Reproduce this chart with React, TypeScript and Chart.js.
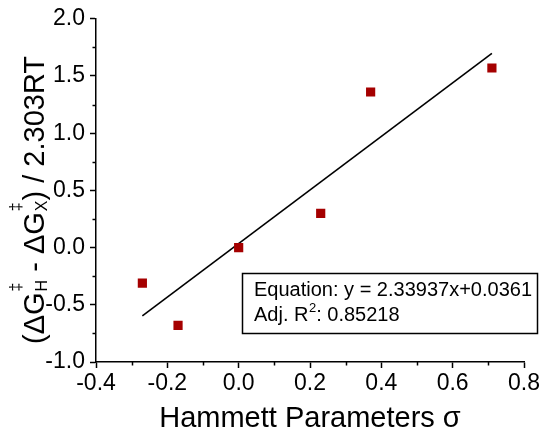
import React, { useEffect, useRef } from "react";
import { Chart, registerables } from "chart.js";

Chart.register(...registerables);

// ---- data ----
const sigma = [-0.27, -0.17, 0.0, 0.23, 0.37, 0.71];
const energy = [-0.31, -0.68, 0.0, 0.3, 1.36, 1.57];
const fitX = [-0.27, 0.71];
const fitY = [-0.596, 1.697];
const xTicks = [-0.4, -0.2, 0.0, 0.2, 0.4, 0.6, 0.8];
const yTicks = [-1.0, -0.5, 0.0, 0.5, 1.0, 1.5, 2.0];
const xTitle = "Hammett Parameters σ";
const yTitleParts = [
  { text: "(ΔG" },
  { sup: "‡", sub: "H" },
  { text: " - ΔG" },
  { sup: "‡", sub: "X" },
  { text: ") / 2.303RT" },
];
const equationText = "Equation: y = 2.33937x+0.0361";
const adjLabel = "Adj. R";
const adjSup = "2";
const adjValue = ": 0.85218";

const FONT = "'Liberation Sans', Arial, Helvetica, sans-serif";
const MARKER = "#a50000";

const decorPlugin = {
  id: "decor",
  afterDraw(chart: any) {
    const { ctx, chartArea } = chart;
    const xs = chart.scales.x;
    const ys = chart.scales.y;
    ctx.save();
    // minor ticks
    ctx.strokeStyle = "#000";
    ctx.lineWidth = 1.5;
    for (let i = 0; i < xTicks.length - 1; i++) {
      const px = Math.round(xs.getPixelForValue((xTicks[i] + xTicks[i + 1]) / 2)) + 0.5;
      ctx.beginPath();
      ctx.moveTo(px, chartArea.bottom);
      ctx.lineTo(px, chartArea.bottom + 3.5);
      ctx.stroke();
    }
    for (let i = 0; i < yTicks.length - 1; i++) {
      const py = Math.round(ys.getPixelForValue((yTicks[i] + yTicks[i + 1]) / 2)) + 0.5;
      ctx.beginPath();
      ctx.moveTo(chartArea.left, py);
      ctx.lineTo(chartArea.left - 3.5, py);
      ctx.stroke();
    }

    // x title
    ctx.fillStyle = "#000";
    ctx.font = `29px ${FONT}`;
    ctx.textAlign = "center";
    ctx.textBaseline = "alphabetic";
    ctx.fillText(xTitle, (chartArea.left + chartArea.right) / 2, 427);

    // y title (rotated, with sub/superscripts)
    const mainFont = `29px ${FONT}`;
    const smallFont = `16px ${FONT}`;
    let total = 0;
    for (const p of yTitleParts as any[]) {
      if (p.text) {
        ctx.font = mainFont;
        total += ctx.measureText(p.text).width;
      } else {
        ctx.font = smallFont;
        total += Math.max(ctx.measureText(p.sup).width, ctx.measureText(p.sub).width) + 1;
      }
    }
    ctx.save();
    ctx.translate(44, 200);
    ctx.rotate(-Math.PI / 2);
    ctx.textAlign = "left";
    let cx = -total / 2;
    for (const p of yTitleParts as any[]) {
      if (p.text) {
        ctx.font = mainFont;
        ctx.fillText(p.text, cx, 0);
        cx += ctx.measureText(p.text).width;
      } else {
        ctx.font = smallFont;
        ctx.fillText(p.sup, cx + 1, -23);
        ctx.fillText(p.sub, cx + 1, 3);
        cx += Math.max(ctx.measureText(p.sup).width, ctx.measureText(p.sub).width) + 1;
      }
    }
    ctx.restore();

    // equation box
    const bx = 242, by = 273, bw = 295, bh = 60;
    ctx.fillStyle = "#fff";
    ctx.fillRect(bx, by, bw, bh);
    ctx.strokeStyle = "#000";
    ctx.lineWidth = 1.5;
    ctx.strokeRect(bx + 0.5, by + 0.5, bw, bh);
    ctx.fillStyle = "#000";
    ctx.textAlign = "left";
    ctx.font = `20px ${FONT}`;
    ctx.fillText(equationText, bx + 12, by + 23);
    ctx.fillText(adjLabel, bx + 12, by + 48);
    const w1 = ctx.measureText(adjLabel).width;
    ctx.font = `13px ${FONT}`;
    ctx.fillText(adjSup, bx + 12 + w1 + 0.5, by + 39);
    const w2 = ctx.measureText(adjSup).width;
    ctx.font = `20px ${FONT}`;
    ctx.fillText(adjValue, bx + 12 + w1 + w2 + 0.5, by + 48);

    ctx.restore();
  },
};

export default function App() {
  const ref = useRef<HTMLCanvasElement | null>(null);
  useEffect(() => {
    if (!ref.current) return;
    const chart = new Chart(ref.current, {
      type: "scatter",
      data: {
        datasets: [
          {
            type: "line",
            data: fitX.map((x, i) => ({ x, y: fitY[i] })),
            borderColor: "#000",
            borderWidth: 1.6,
            pointRadius: 0,
            fill: false,
            order: 2,
          } as any,
          {
            type: "scatter",
            data: sigma.map((x, i) => ({ x, y: energy[i] })),
            pointStyle: "rect",
            pointRadius: 6.5,
            pointBackgroundColor: MARKER,
            pointBorderColor: MARKER,
            pointBorderWidth: 0,
            order: 1,
          } as any,
        ],
      },
      options: {
        animation: false,
        responsive: true,
        maintainAspectRatio: false,
        devicePixelRatio: 1,
        layout: { padding: { left: 0, top: 15, right: 26, bottom: 0 } },
        plugins: { legend: { display: false }, tooltip: { enabled: false }, title: { display: false } },
        scales: {
          x: {
            type: "linear",
            min: -0.4,
            max: 0.8,
            afterFit: (s: any) => {
              s.height = 74;
            },
            afterBuildTicks: (s: any) => {
              s.ticks = xTicks.map((v) => ({ value: v }));
            },
            ticks: {
              color: "#000",
              font: { family: FONT, size: 23 },
              padding: 2,
              maxRotation: 0,
              callback: (v: any) => Number(v).toFixed(1),
            },
            grid: {
              drawOnChartArea: false,
              drawTicks: true,
              tickLength: 6,
              tickColor: "#000",
              tickWidth: 1.5,
            },
            border: { display: true, color: "#000", width: 1.5 },
          },
          y: {
            type: "linear",
            min: -1,
            max: 2,
            afterFit: (s: any) => {
              s.width = 96;
            },
            afterBuildTicks: (s: any) => {
              s.ticks = yTicks.map((v) => ({ value: v }));
            },
            ticks: {
              color: "#000",
              font: { family: FONT, size: 23 },
              padding: 5,
              callback: (v: any) => Number(v).toFixed(1),
            },
            grid: {
              drawOnChartArea: false,
              drawTicks: true,
              tickLength: 6,
              tickColor: "#000",
              tickWidth: 1.5,
            },
            border: { display: true, color: "#000", width: 1.5 },
          },
        },
      },
      plugins: [decorPlugin],
    });
    return () => chart.destroy();
  }, []);
  return (
    <div style={{ position: "absolute", left: 0, top: 0, width: 550, height: 436, background: "#fff" }}>
      <canvas ref={ref} />
    </div>
  );
}
